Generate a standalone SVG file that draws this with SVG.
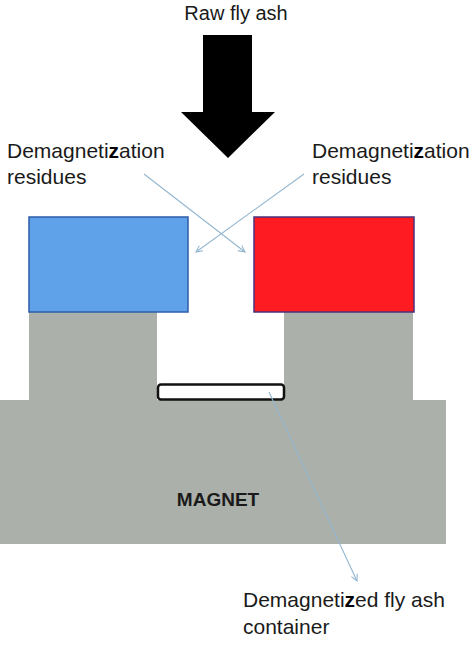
<svg xmlns="http://www.w3.org/2000/svg" width="474" height="645" viewBox="0 0 474 645">
  <defs>
    <style>
      .lbl { font-family: "Liberation Sans", Arial, sans-serif; font-size: 21px; fill: #1a1a1a; }
      .b { font-weight: bold; fill: #000; }
      .conn { stroke: #93b6cf; stroke-width: 1.1; fill: none; }
    </style>
    <marker id="ah" viewBox="0 0 10 10" refX="9" refY="5" markerWidth="8" markerHeight="8" markerUnits="userSpaceOnUse" orient="auto">
      <path d="M1,1 L9,5 L1,9" fill="none" stroke="#93b6cf" stroke-width="1.3"/>
    </marker>
  </defs>
  <rect width="474" height="645" fill="#ffffff"/>

  <g id="magnet">
    <path d="M29,312 H157 V400 H284 V312 H413 V400 H446 V544 H0 V400 H29 Z" fill="#abb0aa"/>
    <text x="218" y="506" text-anchor="middle" font-family="Liberation Sans, Arial, sans-serif" font-size="19" font-weight="bold" fill="#1a1a1a">MAGNET</text>
  </g>

  <g id="blue-block">
    <rect x="29" y="217" width="159" height="95" fill="#60a2ea" stroke="#2d5cab" stroke-width="1.5"/>
  </g>
  <g id="red-block">
    <rect x="254" y="217" width="160" height="95" fill="#fe1c22" stroke="#4b2f7a" stroke-width="1.5"/>
  </g>

  <g id="container">
    <rect x="158" y="384.5" width="126" height="15" rx="3" fill="#ffffff" stroke="#111111" stroke-width="2.5"/>
  </g>

  <g id="input-arrow">
    <polygon points="203,35 252,35 252,112 275,112 228,158 181,112 203,112" fill="#000000"/>
    <text class="lbl" x="236" y="20" text-anchor="middle" font-size="20" style="font-size:20px">Raw fly ash</text>
  </g>

  <g id="label-left">
    <text class="lbl" x="7" y="158">Demagneti<tspan class="b">z</tspan>ation</text>
    <text class="lbl" x="7" y="184">residues</text>
  </g>
  <g id="label-right">
    <text class="lbl" x="312" y="158">Demagneti<tspan class="b">z</tspan>ation</text>
    <text class="lbl" x="312" y="184">residues</text>
  </g>
  <g id="label-bottom">
    <text class="lbl" x="243" y="607">Demagneti<tspan class="b">z</tspan>ed fly ash</text>
    <text class="lbl" x="243" y="634">container</text>
  </g>

  <g id="connectors">
    <line class="conn" x1="144" y1="174" x2="245" y2="252" marker-end="url(#ah)"/>
    <line class="conn" x1="304" y1="174" x2="196" y2="252" marker-end="url(#ah)"/>
    <line class="conn" x1="269" y1="392" x2="357" y2="581" marker-end="url(#ah)"/>
  </g>
</svg>
